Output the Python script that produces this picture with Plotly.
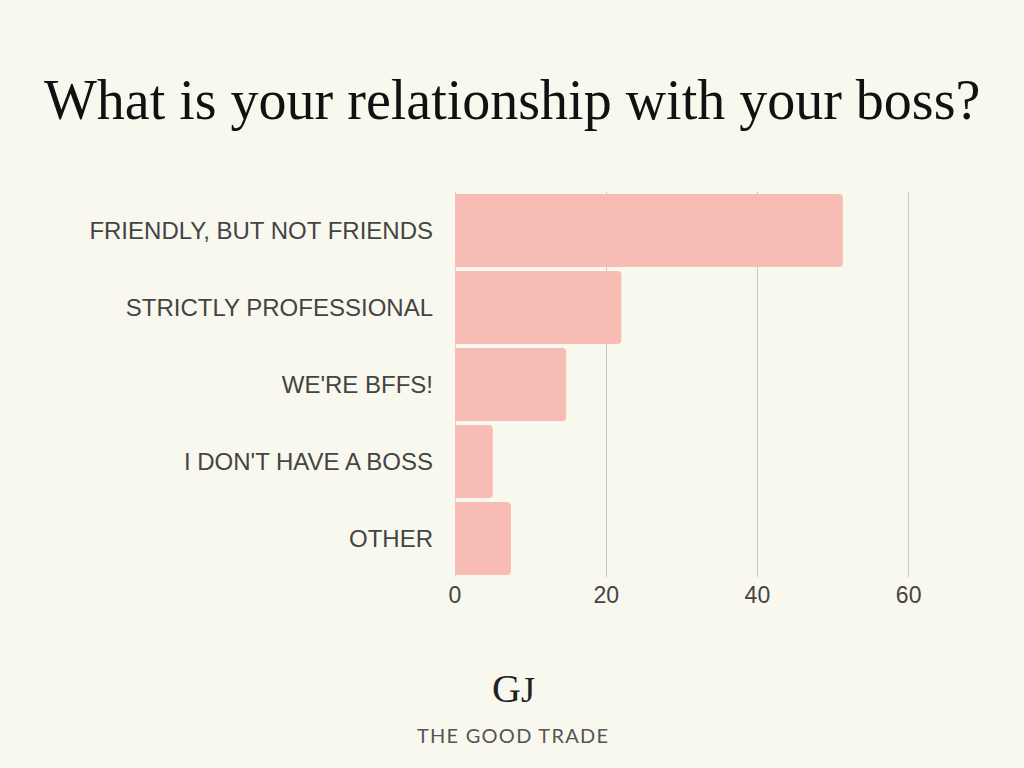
import plotly.graph_objects as go

# survey answers, top to bottom
categories = [
    "FRIENDLY, BUT NOT FRIENDS",
    "STRICTLY PROFESSIONAL",
    "WE'RE BFFS!",
    "I DON'T HAVE A BOSS",
    "OTHER",
]
percent = [51.3, 22, 14.7, 5, 7.4]
x_ticks = [0, 20, 40, 60]

BG = "#F9F8EE"
BAR = "#F7BDB5"
TEXT = "#444444"

L, R, T, B = 455, 70, 192, 191
W, H = 1024, 768


def px(x):
    return (x - L) / (W - L - R)


def py(y):
    return (H - B - y) / (H - B - T)


fig = go.Figure(
    go.Bar(
        x=percent,
        y=categories,
        orientation="h",
        marker=dict(color=BAR, line=dict(width=0)),
        hoverinfo="x+y",
    )
)

fig.update_layout(
    width=W,
    height=H,
    paper_bgcolor=BG,
    plot_bgcolor=BG,
    margin=dict(l=L, r=R, t=T, b=B),
    bargap=0.05,
    barcornerradius=4,
    showlegend=False,
    font=dict(family="Liberation Sans, Arial, sans-serif", color=TEXT),
)

fig.update_xaxes(
    range=[0, 66],
    tickvals=x_ticks,
    tickfont=dict(size=23, color=TEXT),
    showgrid=True,
    gridcolor="#C9C9C0",
    gridwidth=1,
    zeroline=True,
    zerolinecolor="#DADAD2",
    zerolinewidth=1,
    showline=False,
    ticks="",
    ticklabelstandoff=2,
    fixedrange=True,
)
fig.update_yaxes(
    categoryorder="array",
    categoryarray=categories[::-1],
    tickfont=dict(size=24, color=TEXT),
    ticks="",
    ticklabelstandoff=21,
    showgrid=False,
    showline=False,
    fixedrange=True,
)

# title
fig.add_annotation(
    text="What is your relationship with your boss?",
    xref="paper", yref="paper",
    x=px(512), y=py(100),
    xanchor="center", yanchor="middle", showarrow=False,
    font=dict(family="Liberation Serif, DejaVu Serif, serif", size=56, color="#111111"),
)

# logo monogram, then the wordmark
fig.add_annotation(
    text="G<span style='font-size:36px'>J</span>", xref="paper", yref="paper",
    x=px(513), y=py(688),
    xanchor="center", yanchor="middle", showarrow=False,
    font=dict(family="Liberation Serif, serif", size=40, color="#222222"),
)
fig.add_annotation(
    text="T\u200aH\u200aE\u2009 G\u200aO\u200aO\u200aD\u2009 T\u200aR\u200aA\u200aD\u200aE",
    xref="paper", yref="paper",
    x=px(512), y=py(735),
    xanchor="center", yanchor="middle", showarrow=False,
    font=dict(family="Lato, sans-serif", size=20, color="#555555"),
)

fig.write_html(
    "out.html",
    config=dict(displayModeBar=False),
    post_script="document.body.style.margin='0';document.body.style.background='%s';" % BG,
)
